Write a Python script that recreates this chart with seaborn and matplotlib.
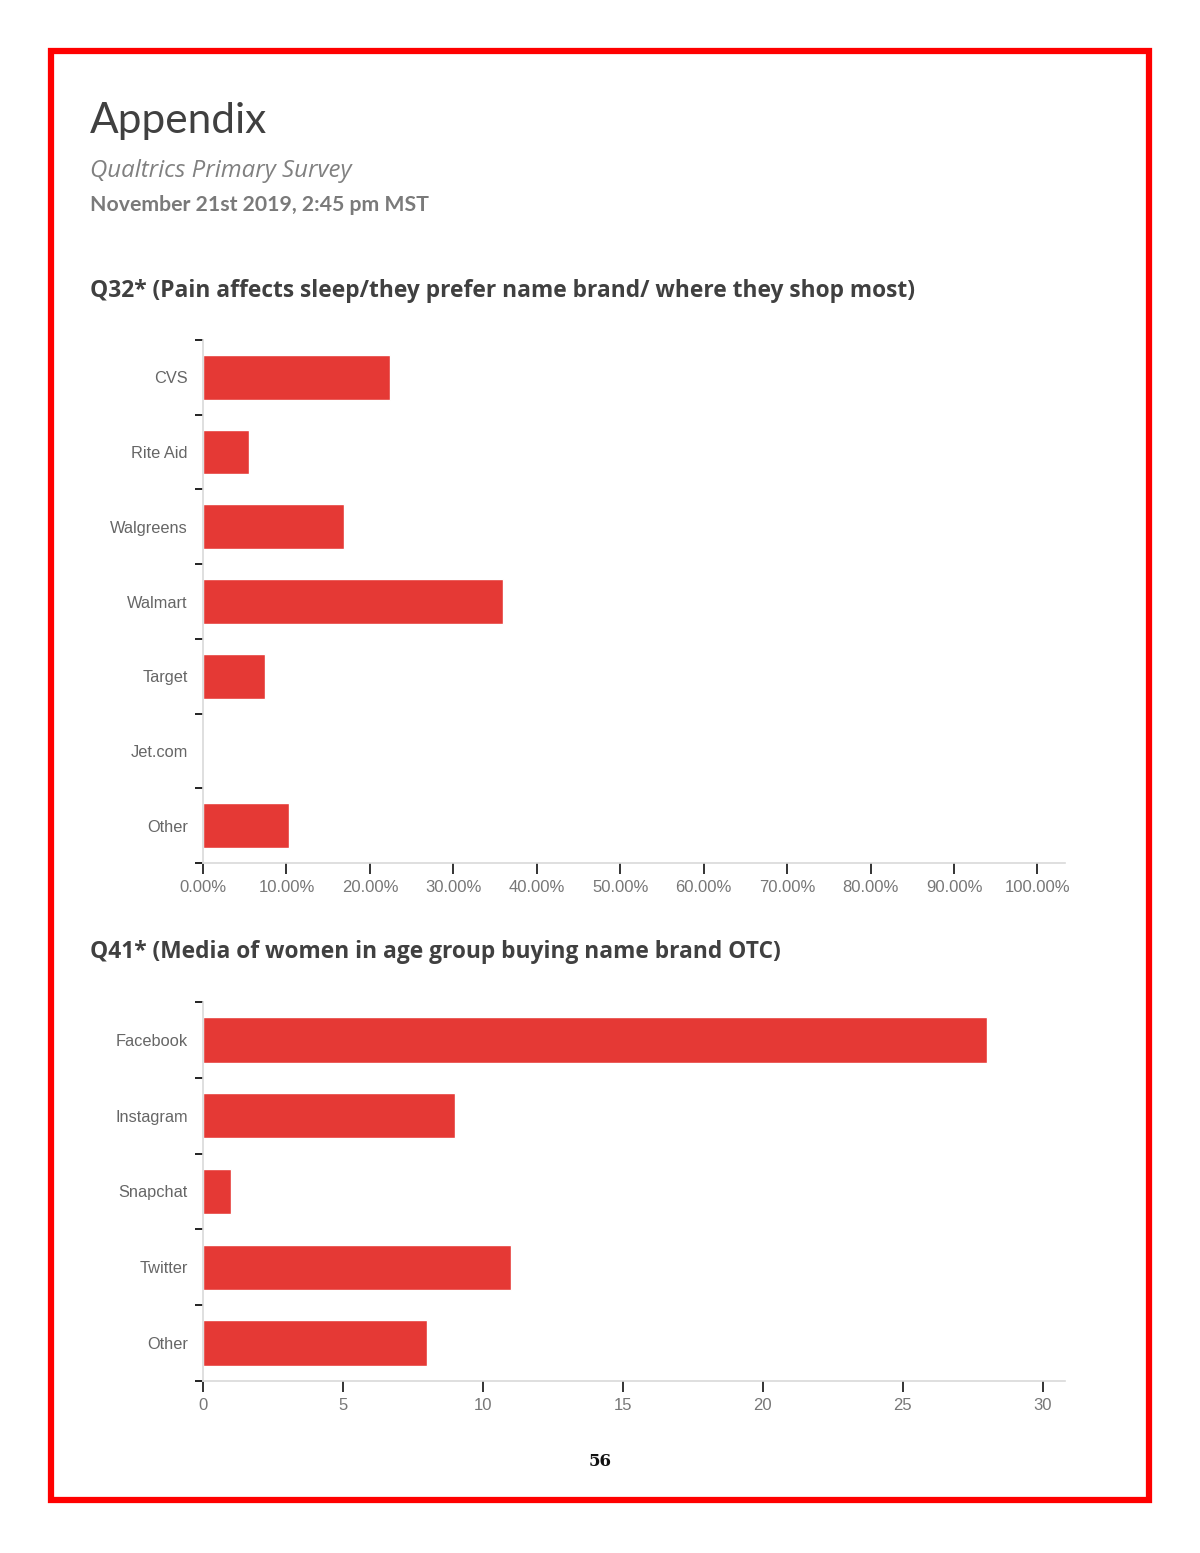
import matplotlib
matplotlib.use('Agg')
import matplotlib.pyplot as plt
import seaborn as sns
import pandas as pd
import numpy as np
from matplotlib.patches import Rectangle
from matplotlib.ticker import FixedLocator, PercentFormatter

# Data
stores = ['CVS', 'Rite Aid', 'Walgreens', 'Walmart', 'Target', 'Jet.com', 'Other']
store_pct = [22.4, 5.5, 16.9, 35.9, 7.4, 0.0, 10.3]

media = ['Facebook', 'Instagram', 'Snapchat', 'Twitter', 'Other']
media_count = [28, 9, 1, 11, 8]

pct_ticks = [0, 10, 20, 30, 40, 50, 60, 70, 80, 90, 100]
count_ticks = [0, 5, 10, 15, 20, 25, 30]

df_q32 = pd.DataFrame({'store': stores, 'pct': store_pct})
df_q41 = pd.DataFrame({'media': media, 'count': media_count})

sns.set_theme(style='white')
plt.rcParams['font.family'] = ['Lato', 'DejaVu Sans']

BAR = '#e53935'
W, H = 1200, 1553
fig = plt.figure(figsize=(W / 100, H / 100), dpi=100)


def ax_box(left, top, right, bottom):
    return [left / W, 1 - bottom / H, (right - left) / W, (bottom - top) / H]


def style_axis(ax, n, xticks, xmax):
    ax.set_xlim(0, xmax)
    ax.set_ylim(n - 0.5, -0.5)
    ax.set_xticks(xticks)
    ax.yaxis.set_minor_locator(FixedLocator(np.arange(n + 1) - 0.5))
    ax.tick_params(axis='y', which='major', length=0, pad=11,
                   labelsize=11.8, labelcolor='#666666')
    ax.tick_params(axis='y', which='minor', left=True, length=6, width=1.3,
                   color='#111111')
    ax.tick_params(axis='x', which='major', bottom=True, length=8, width=1.2,
                   color='#111111', pad=4, labelsize=12, labelcolor='#777777')
    for lab in ax.get_xticklabels() + ax.get_yticklabels():
        lab.set_family(['Liberation Sans', 'DejaVu Sans'])
    for s in ['top', 'right']:
        ax.spines[s].set_visible(False)
    for s in ['left', 'bottom']:
        ax.spines[s].set_color('#d9d9d9')
        ax.spines[s].set_linewidth(1.2)
    ax.set_xlabel('')
    ax.set_ylabel('')


# --- Q32 chart ---
ax1 = fig.add_axes(ax_box(203, 340, 1065, 863))
sns.barplot(data=df_q32, x='pct', y='store', orient='h', color=BAR,
            saturation=1, width=0.6, ax=ax1)
style_axis(ax1, len(stores), pct_ticks, 103.3)
ax1.xaxis.set_major_formatter(PercentFormatter(decimals=2))

# --- Q41 chart ---
ax2 = fig.add_axes(ax_box(203, 1002, 1065, 1381))
sns.barplot(data=df_q41, x='count', y='media', orient='h', color=BAR,
            saturation=1, width=0.6, ax=ax2)
style_axis(ax2, len(media), count_ticks, 30.8)

# --- page text ---
def put(x, y, s, **kw):
    fig.text(x / W, 1 - y / H, s, va='center', ha=kw.pop('ha', 'left'), **kw)

put(90, 121, 'Appendix', fontsize=30.5, color='#404040')
put(90, 171, 'Qualtrics Primary Survey', fontsize=17.3, style='italic', color='#808080',
    family=['Open Sans', 'DejaVu Sans'])
put(90, 205, 'November 21st 2019, 2:45 pm MST', fontsize=15.3, weight='bold', color='#7a7a7a')
put(90, 291, 'Q32* (Pain affects sleep/they prefer name brand/ where they shop most)',
    fontsize=16.4, weight='bold', color='#404040', family=['Open Sans', 'DejaVu Sans'])
put(90, 952, 'Q41* (Media of women in age group buying name brand OTC)',
    fontsize=16.4, weight='bold', color='#404040', family=['Open Sans', 'DejaVu Sans'])
put(600, 1462, '56', fontsize=12, weight='bold', color='#111111', ha='center',
    family=['DejaVu Serif'])

# red page frame
fig.patches.append(Rectangle((51 / W, 1 - 1500 / H), 1098 / W, 1449 / H,
                             transform=fig.transFigure, fill=False,
                             edgecolor='#ff0000', linewidth=4.5))

plt.savefig('out.png', dpi=100)
